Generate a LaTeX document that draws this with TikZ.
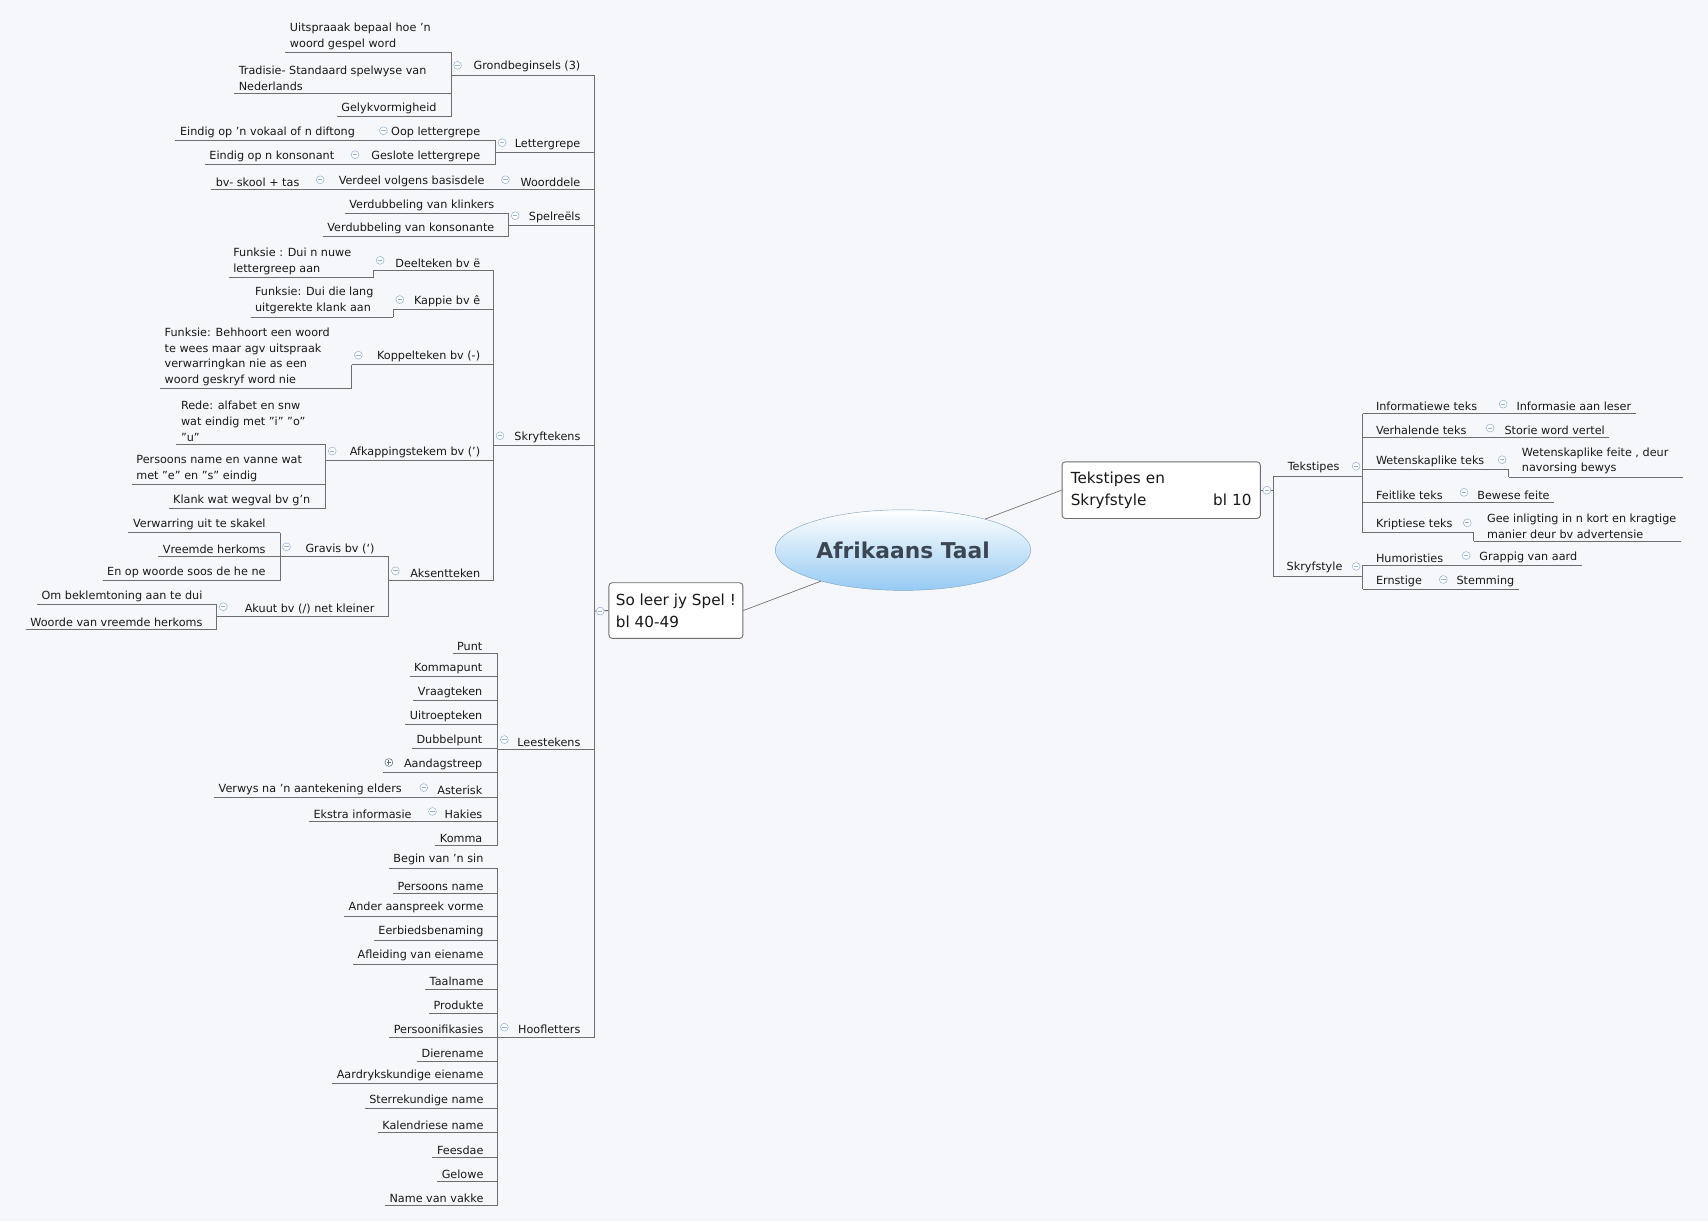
\documentclass[tikz,border=0pt]{standalone}
\usepackage{fontspec}
\setmainfont{DejaVu Sans}
\usetikzlibrary{shapes.geometric}
\definecolor{lc}{RGB}{110,110,110}
\definecolor{txt}{RGB}{25,25,25}
\definecolor{bgc}{RGB}{246,247,250}
\definecolor{icb}{RGB}{150,180,215}
\tikzset{
 lt/.style={font=\fontsize{10.3}{14.5}\selectfont, inner xsep=4pt, inner ysep=2.5pt, text=txt},
 ln/.style={draw=lc, line width=0.8pt},
 boxn/.style={draw=lc, line width=0.8pt, fill=white, rounded corners=3pt, font=\fontsize{14}{20}\selectfont, text=txt, align=left}
}
\newcommand\icon[2]{\draw[icb, fill=white, line width=0.5pt] (#1,#2) circle (3.6); \draw[icb, line width=0.7pt] (#1-2,#2) -- (#1+2,#2);}
\newcommand\iconp[2]{\draw[icb!60!black, fill=white, line width=0.5pt] (#1,#2) circle (3.6); \draw[icb!60!black, line width=0.7pt] (#1-2,#2) -- (#1+2,#2) (#1,#2-2) -- (#1,#2+2);}
% left leaf: name, rightx, y, text, parentjx
\newcommand\LT[5]{\node[lt,anchor=south east] (#1) at (#2+4,#3) {#4}; \draw[ln] (#1.south west) -- (#5,#3);}
% left multi-line leaf: name, leftx, y, text, parentjx
\newcommand\LW[5]{\node[lt,anchor=south west,align=left] (#1) at (#2-4,#3) {#4}; \draw[ln] (#1.south west) -- (#5,#3);}
% left parent: name, rightx, y, text, parentjx, ownjx
\newcommand\LP[6]{\node[lt,anchor=south east] (#1) at (#2+4,#3) {#4}; \draw[ln] (#6,#3) -- (#5,#3); \icon{#6+6}{#3-9}}
% right leaf: name, leftx, y, text, parentjx
\newcommand\RT[5]{\node[lt,anchor=south west,align=left] (#1) at (#2-4,#3) {#4}; \draw[ln] (#5,#3) -- (#1.south east);}
\newcommand\RP[6]{\node[lt,anchor=south west] (#1) at (#2-4,#3) {#4}; \draw[ln] (#5,#3) -- (#6,#3); \icon{#6-6}{#3-9}}
\newcommand\VL[3]{\draw[ln] (#1,#2) -- (#1,#3);}
\begin{document}
\begin{tikzpicture}[x=1pt,y=-1pt]
\fill[bgc] (0,0) rectangle (1568,1121);
\useasboundingbox (0,0) rectangle (1568,1121);
% root
\node[ellipse, minimum width=216, minimum height=74, draw={rgb,255:red,130;green,165;blue,200}, top color=white, bottom color={rgb,255:red,150;green,202;blue,242}, font=\bfseries\fontsize{20}{24}\selectfont, text={rgb,255:red,60;green,70;blue,82}] (root) at (829,505) {Afrikaans Taal};
\node[boxn, minimum width=123, minimum height=51] (spel) at (620.5,560.5) {So leer jy Spel !\\bl 40-49};
\node[boxn, minimum width=182, minimum height=52, text width=166] (teks) at (1066,450) {Tekstipes en\\\makebox[166pt][l]{Skryfstyle\hfill bl 10}};
\draw[ln, line width=0.6pt] (root) -- (spel.east);
\draw[ln, line width=0.6pt] (root) -- (teks.west);
% spine
\VL{546}{69}{952}
\draw[ln] (546,561) -- (spel.west);
\icon{551}{561}
% Grondbeginsels
\LP{g}{533}{69}{Grondbeginsels (3)}{546}{414}
\VL{414}{48}{107}
\LW{g1}{266}{48}{Uitspraaak bepaal hoe 'n\\woord gespel word}{414}
\LW{g2}{219}{86}{Tradisie- Standaard spelwyse van\\Nederlands}{414}
\LT{g3}{401}{107}{Gelykvormigheid}{414}
% Lettergrepe
\LP{l}{533}{140}{Lettergrepe}{546}{455}
\VL{455}{129}{151}
\LP{l1}{441}{129}{Oop lettergrepe}{455}{346}
\LT{l1a}{326}{129}{Eindig op 'n vokaal of n diftong}{346}
\LP{l2}{441}{151}{Geslote lettergrepe}{455}{320}
\LT{l2a}{307}{151}{Eindig op n konsonant}{320}
% Woorddele
\LP{w}{533}{174}{Woorddele}{546}{458}
\LP{w1}{445}{174}{Verdeel volgens basisdele}{458}{288}
\LT{w1a}{275}{174}{bv- skool + tas}{288}
% Spelreels
\LP{s}{533}{207}{Spelreëls}{546}{467}
\VL{467}{196}{217}
\LT{s1}{454}{196}{Verdubbeling van klinkers}{467}
\LT{s2}{454}{217}{Verdubbeling van konsonante}{467}
% Skryftekens
\LP{k}{533}{409}{Skryftekens}{546}{453}
\VL{453}{248}{533}
\LP{k1}{441}{248}{Deelteken bv ë}{453}{343}
\VL{343}{248}{255}
\LW{k1a}{214}{255}{Funksie : Dui n nuwe\\lettergreep aan}{343}
\LP{k2}{441}{284}{Kappie bv ê}{453}{361}
\VL{361}{284}{291}
\LW{k2a}{234}{291}{Funksie: Dui die lang\\uitgerekte klank aan}{361}
\LP{k3}{441}{335}{Koppelteken bv (-)}{453}{323}
\VL{323}{335}{357}
\LW{k3a}{151}{357}{Funksie: Behhoort een woord\\te wees maar agv uitspraak\\verwarringkan nie as een\\woord geskryf word nie}{323}
\LP{k4}{441}{423}{Afkappingstekem bv (')}{453}{299}
\VL{299}{408}{467}
\LW{k4a}{166}{408}{Rede: alfabet en snw\\wat eindig met "i" "o"\\"u"}{299}
\LW{k4b}{125}{445}{Persoons name en vanne wat\\met "e" en "s" eindig}{299}
\LT{k4c}{285}{467}{Klank wat wegval bv g'n}{299}
\LP{k5}{441}{533}{Aksentteken}{453}{357}
\VL{357}{511}{566}
\LP{k5a}{344}{511}{Gravis bv (`)}{357}{257}
\VL{257}{489}{533}
\LT{k5a1}{244}{489}{Verwarring uit te skakel}{257}
\LT{k5a2}{244}{511}{Vreemde herkoms}{257}
\LT{k5a3}{244}{533}{En op woorde soos de he ne}{257}
\LP{k5b}{344}{566}{Akuut bv (/) net kleiner}{357}{199}
\VL{199}{555}{578}
\LT{k5b1}{186}{555}{Om beklemtoning aan te dui}{199}
\LT{k5b2}{186}{578}{Woorde van vreemde herkoms}{199}
% Leestekens
\LP{p}{533}{688}{Leestekens}{546}{457}
\VL{457}{600}{776}
\LT{p1}{443}{600}{Punt}{457}
\LT{p2}{443}{621}{Kommapunt}{457}
\LT{p3}{443}{643}{Vraagteken}{457}
\LT{p4}{443}{665}{Uitroepteken}{457}
\LT{p5}{443}{687}{Dubbelpunt}{457}
\LT{p6}{443}{709}{Aandagstreep}{457}
\draw[ln] (352,709) -- (p6.south west);
\iconp{357}{700}
\LP{p7}{443}{732}{Asterisk}{457}{383}
\LT{p7a}{369}{732}{Verwys na 'n aantekening elders}{383}
\LP{p8}{443}{754}{Hakies}{457}{391}
\LT{p8a}{378}{754}{Ekstra informasie}{391}
\LT{p9}{443}{776}{Komma}{457}
% Hoofletters
\LP{h}{533}{952}{Hoofletters}{546}{457}
\VL{457}{797}{1107}
\LT{h1}{444}{797}{Begin van 'n sin}{457}
\LT{h2}{444}{820}{Persoons name}{457}
\LT{h3}{444}{841}{Ander aanspreek vorme}{457}
\LT{h4}{444}{863}{Eerbiedsbenaming}{457}
\LT{h5}{444}{885}{Afleiding van eiename}{457}
\LT{h6}{444}{908}{Taalname}{457}
\LT{h7}{444}{930}{Produkte}{457}
\LT{h8}{444}{952}{Persoonifikasies}{457}
\LT{h9}{444}{974}{Dierename}{457}
\LT{h10}{444}{995}{Aardrykskundige eiename}{457}
\LT{h11}{444}{1018}{Sterrekundige name}{457}
\LT{h12}{444}{1040}{Kalendriese name}{457}
\LT{h13}{444}{1063}{Feesdae}{457}
\LT{h14}{444}{1085}{Gelowe}{457}
\LT{h15}{444}{1107}{Name van vakke}{457}
% right side
\draw[ln] (teks.east) -- (1169,450);
\icon{1163}{450}
\VL{1169}{437}{529}
\RP{t}{1182}{437}{Tekstipes}{1169}{1251}
\VL{1251}{380}{489}
\RP{t1}{1263}{380}{Informatiewe teks}{1251}{1386}
\RT{t1a}{1392}{380}{Informasie aan leser}{1386}
\RP{t2}{1263}{402}{Verhalende teks}{1251}{1374}
\RT{t2a}{1381}{402}{Storie word vertel}{1374}
\RP{t3}{1263}{431}{Wetenskaplike teks}{1251}{1385}
\VL{1385}{431}{438}
\RT{t3a}{1397}{438}{Wetenskaplike feite , deur\\navorsing bewys}{1385}
\draw[ln] (t3a.south east) -- (1545,438);
\RP{t4}{1263}{461}{Feitlike teks}{1251}{1350}
\RT{t4a}{1356}{461}{Bewese feite}{1350}
\RP{t5}{1263}{489}{Kriptiese teks}{1251}{1353}
\VL{1353}{489}{497}
\RT{t5a}{1365}{497}{Gee inligting in n kort en kragtige\\manier deur bv advertensie}{1353}
\RP{y}{1181}{529}{Skryfstyle}{1169}{1251}
\VL{1251}{519}{541}
\RP{y1}{1263}{519}{Humoristies}{1251}{1352}
\RT{y1a}{1358}{519}{Grappig van aard}{1352}
\RP{y2}{1263}{541}{Ernstige}{1251}{1331}
\RT{y2a}{1337}{541}{Stemming}{1331}
\end{tikzpicture}
\end{document}
